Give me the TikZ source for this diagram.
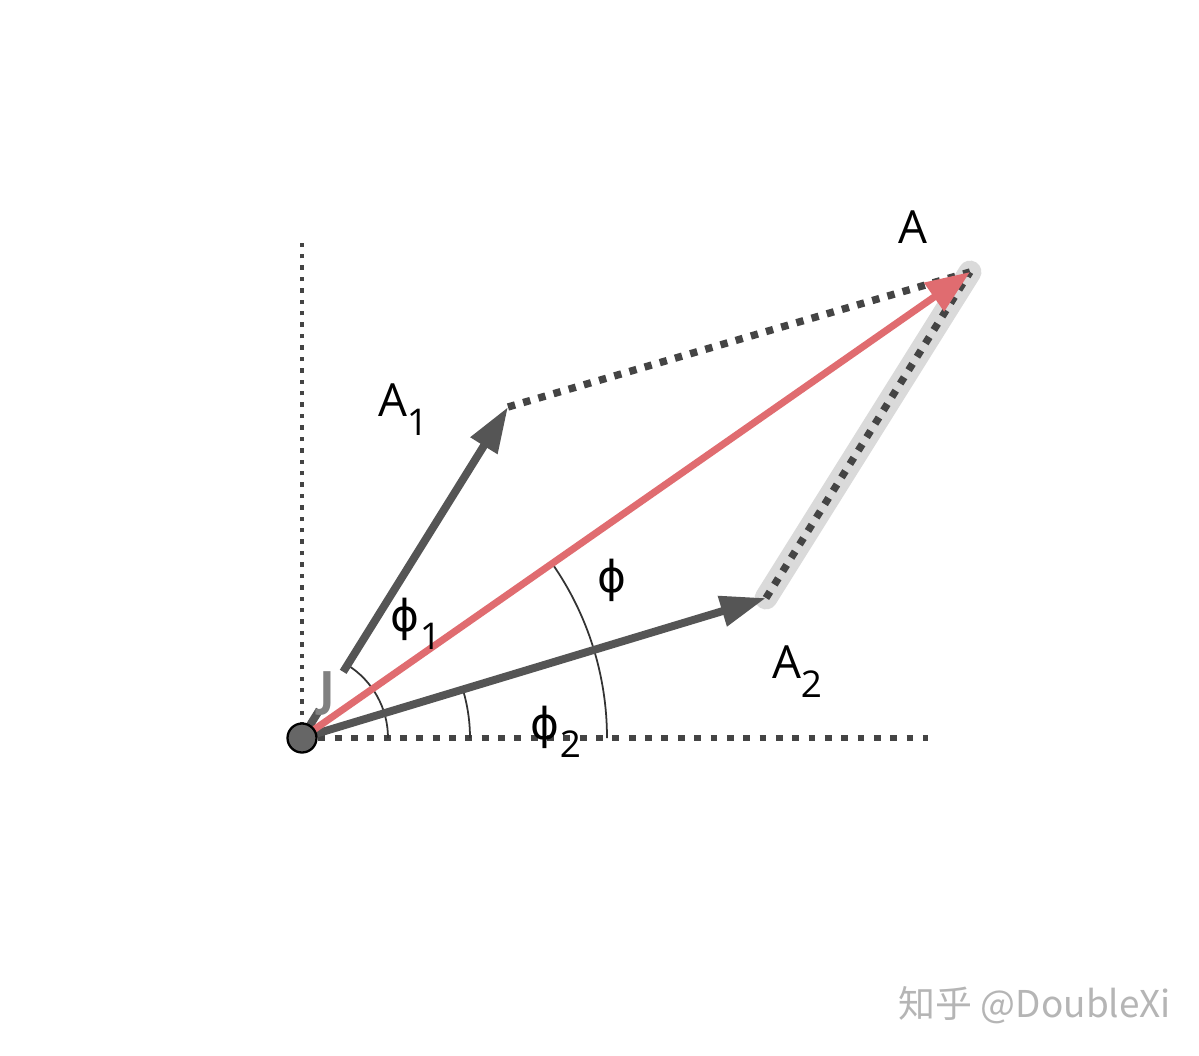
\documentclass[tikz,border=0pt]{standalone}
\usepackage{fontspec}
\setmainfont{Open Sans}
\newfontfamily\dvfont{DejaVu Sans}
\newfontfamily\labfont{Open Sans}
\newfontfamily\cjkfont{Noto Sans CJK SC}
\usetikzlibrary{arrows.meta,calc}
\definecolor{vecgray}{HTML}{555555}
\definecolor{dotgray}{HTML}{444444}
\definecolor{redvec}{HTML}{E06C70}
\definecolor{bandgray}{HTML}{DADADA}
\definecolor{wmgray}{HTML}{B5B5B5}
\definecolor{dotfill}{HTML}{666666}
\newcommand\sbx[1]{\raisebox{-0.42em}{\labfont\fontsize{21}{21}\selectfont #1}}
\begin{document}
\begin{tikzpicture}[x=0.02cm,y=-0.02cm,
  axisdots/.style={dotgray, line width=2.5pt, dash pattern=on 2.5pt off 4pt},
  hdots/.style={dotgray, line width=3.9pt, dash pattern=on 3.9pt off 5.4pt},
  pdots/.style={dotgray, line width=4.2pt, dash pattern=on 4.2pt off 4.8pt},
  vecline/.style={vecgray, line width=4.5pt},
  vec/.style={vecline, -{Triangle[length=26pt,width=17pt]}},
  resvec/.style={redvec, line width=4pt, -{Triangle[length=25pt,width=19pt]}},
  anglearc/.style={black!80, line width=1pt},
  lbl/.style={inner sep=0pt, font=\labfont\fontsize{26}{26}\selectfont},
  philbl/.style={inner sep=0pt, font=\dvfont\fontsize{25}{25}\selectfont},
]
\useasboundingbox[fill=white] (0,0) rectangle (1199,1055);

\coordinate (O) at (302,738);
\coordinate (P1) at (508,407);
\coordinate (P2) at (766,598);
\coordinate (PA) at (970,272);
\coordinate (Vtop) at (302,237);
\coordinate (Hend) at (928,738);

% highlight band
\draw[bandgray, line width=13pt, line cap=round] (P2) -- (PA);

% axes
\draw[axisdots] (O) -- (Vtop);
\draw[hdots] (O) -- (Hend);

% parallelogram sides
\draw[pdots] (P1) -- (PA);
\draw[pdots] (P2) -- (PA);

% angle arcs
\draw[anglearc] (388,738) arc[start angle=0, end angle=-58.1, radius=86];
\draw[anglearc] (470,738) arc[start angle=0, end angle=-16.5, radius=168];
\draw[anglearc] (607,738) arc[start angle=0, end angle=-34.9, radius=305];

% vectors
\draw[vec] (O) -- (P2);
\draw[vecline] (O) -- ($(O)!0.085!(P1)$);
\draw[vec] ($(O)!0.2!(P1)$) -- (P1);
\draw[resvec] (O) -- (PA);

% origin dot
\node[circle, draw=black, fill=dotfill, line width=1.3pt, minimum size=0.58cm, inner sep=0pt] (origin) at (O) {};

% labels
\node[lbl] (labA) at (913,227) {A};
\node[lbl] (labA1) at (403,410) {A\sbx{1}};
\node[lbl] (labA2) at (797,672) {A\sbx{2}};
\node[philbl] (labphi) at (612,580) {ϕ};
\node[philbl] (labphi1) at (416,624) {ϕ\sbx{1}};
\node[philbl] (labphi2) at (556,732) {ϕ\sbx{2}};
\node[inner sep=0pt, text=gray, font=\labfont\bfseries\fontsize{27}{27}\selectfont] (jmark) at (327,694) {J};

% watermark
\node[inner sep=0pt, text=wmgray, font=\cjkfont\fontsize{21}{21}\selectfont] (wmark) at (1035,1005) {知乎 @DoubleXi};
\end{tikzpicture}
\end{document}
